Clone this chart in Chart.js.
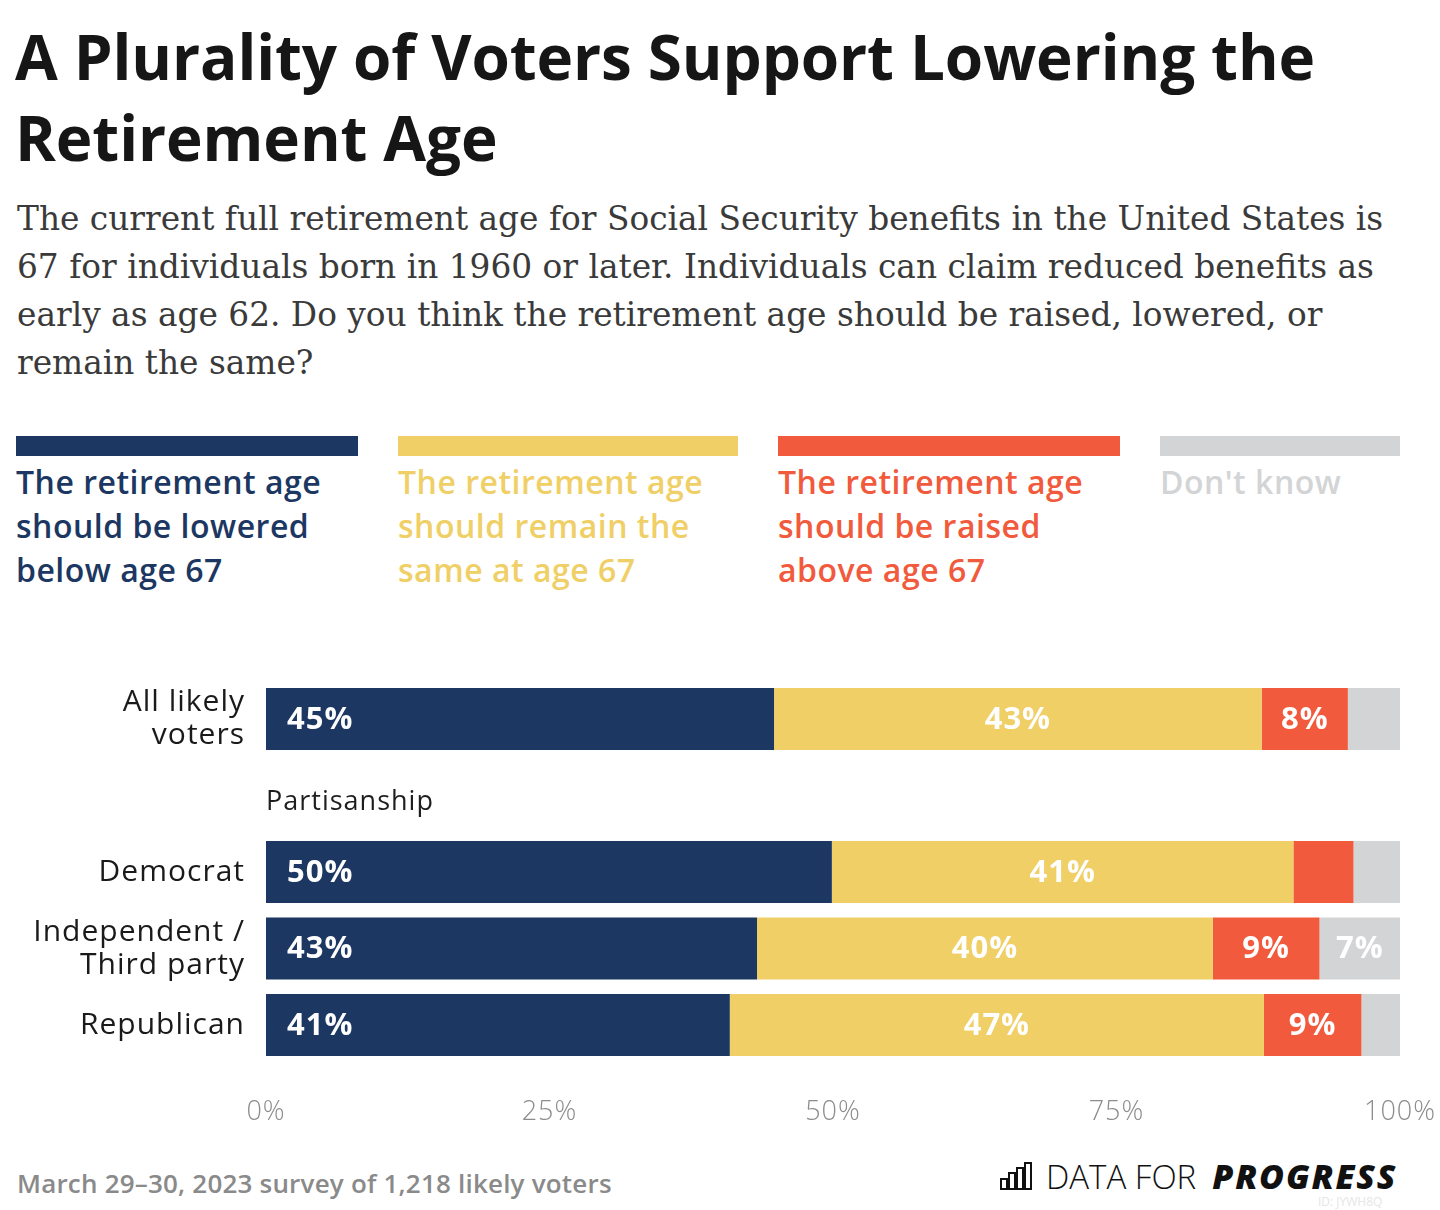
<!DOCTYPE html>
<html>
<head>
<meta charset="utf-8">
<script src="https://cdn.jsdelivr.net/npm/chart.js@4.4.0/dist/chart.umd.min.js"></script>
<style>
  body { margin: 0; width: 1440px; height: 1210px; background: #fff; position: relative; overflow: hidden; font-family: "Open Sans", sans-serif; }
  #title { position: absolute; left: 15px; top: 16px; font-weight: 700; font-size: 62px; line-height: 81px; color: #161616; white-space: nowrap; letter-spacing: -0.1px; }
  #subtitle { position: absolute; left: 17px; top: 195px; font-family: "DejaVu Serif", serif; font-size: 32.8px; line-height: 48px; color: #3a3a3a; white-space: nowrap; }
  #legend { position: absolute; left: 0; top: 436px; width: 1440px; height: 160px; }
  .item { position: absolute; top: 0; }
  .swatch { height: 20px; }
  .item-text { margin-top: 4px; font-weight: 600; font-size: 32px; line-height: 44px; white-space: nowrap; letter-spacing: 0.5px; }
  #chartBox { position: absolute; left: 0; top: 670px; width: 1440px; height: 470px; }
  #note { position: absolute; left: 17px; top: 1165px; font-weight: 600; font-size: 26px; color: #8a8a8a; white-space: nowrap; letter-spacing: 0.2px; }
  #logo { position: absolute; left: 1000px; top: 1158px; height: 36px; display: flex; align-items: center; white-space: nowrap; }
  #logo .thin { font-weight: 300; font-size: 33px; color: #111; margin-left: 14px; }
  #logo .bold { font-weight: 800; font-style: italic; font-size: 34px; color: #111; margin-left: 16px; letter-spacing: 1.8px; }
  #chartId { position: absolute; left: 1318px; top: 1193px; font-size: 12px; color: #e6e6e6; }
</style>
</head>
<body>
<div id="title">A Plurality of Voters Support Lowering the<br>Retirement Age</div>
<div id="subtitle">The current full retirement age for Social Security benefits in the United States is<br>67 for individuals born in 1960 or later. Individuals can claim reduced benefits as<br>early as age 62. Do you think the retirement age should be raised, lowered, or<br>remain the same?</div>
<div id="legend"></div>
<div id="chartBox"><canvas id="chart"></canvas></div>
<div id="note">March 29–30, 2023 survey of 1,218 likely voters</div>
<div id="logo">
  <svg width="32" height="28" viewBox="0 0 32 28">
    <g fill="none" stroke="#111" stroke-width="2">
      <rect x="1" y="17" width="6" height="10"/>
      <rect x="9" y="11" width="6" height="16"/>
      <rect x="17" y="6" width="6" height="21"/>
      <rect x="25" y="1" width="6" height="26"/>
    </g>
  </svg>
  <span class="thin">DATA FOR</span><span class="bold">PROGRESS</span>
</div>
<div id="chartId">ID: JYWH8Q</div>
<script>
const categories = [["All likely", "voters"], "", "Democrat", ["Independent /", "Third party"], "Republican"];
const lowered = [44.8, null, 49.9, 43.3, 40.9];
const remainSame = [43.0, null, 40.7, 40.2, 47.1];
const raised = [7.6, null, 5.3, 9.4, 8.6];
const dontKnow = [4.6, null, 4.1, 7.1, 3.4];
const seriesNames = [
  ["The retirement age", "should be lowered", "below age 67"],
  ["The retirement age", "should remain the", "same at age 67"],
  ["The retirement age", "should be raised", "above age 67"],
  ["Don't know"]
];
const seriesColors = ["#1c3762", "#efcf66", "#f15a3c", "#d3d4d6"];
const xTicks = [0, 25, 50, 75, 100];
const groupHeader = "Partisanship";

// legend columns above the chart
const legendBox = document.getElementById("legend");
const legendLeft = [16, 398, 778, 1160];
const legendWidth = [342, 340, 342, 240];
seriesNames.forEach((lines, i) => {
  const item = document.createElement("div");
  item.className = "item";
  item.style.left = legendLeft[i] + "px";
  item.style.width = legendWidth[i] + "px";
  item.innerHTML = `<div class="swatch" style="background:${seriesColors[i]}"></div>` +
    `<div class="item-text" style="color:${seriesColors[i]}">${lines.join("<br>")}</div>`;
  legendBox.appendChild(item);
});

// a bit of tracking on all canvas text, closer to the original typeface
const tracking = {
  id: "tracking",
  beforeDraw(chart) {
    chart.ctx.letterSpacing = "1px";
  }
};

const barLabels = {
  id: "barLabels",
  afterDatasetsDraw(chart) {
    const ctx = chart.ctx;
    ctx.save();
    ctx.font = "bold 31px 'Open Sans'";
    ctx.fillStyle = "#ffffff";
    ctx.textBaseline = "middle";
    chart.data.datasets.forEach((ds, i) => {
      const meta = chart.getDatasetMeta(i);
      meta.data.forEach((bar, j) => {
        const v = ds.data[j];
        if (v == null || v < 6) return;
        const text = Math.round(v) + "%";
        if (i === 0) {
          ctx.textAlign = "left";
          ctx.fillText(text, bar.base + 21, bar.y + 1);
        } else {
          ctx.textAlign = "center";
          ctx.fillText(text, (bar.x + bar.base) / 2, bar.y + 1);
        }
      });
    });
    ctx.font = "27px 'Open Sans'";
    ctx.fillStyle = "#1e1e1e";
    ctx.textAlign = "left";
    ctx.fillText(groupHeader, chart.chartArea.left, chart.scales.y.getPixelForValue(1) + 7);
    ctx.restore();
  }
};

new Chart(document.getElementById("chart"), {
  type: "bar",
  data: {
    labels: categories,
    datasets: [lowered, remainSame, raised, dontKnow].map((values, i) => ({
      label: seriesNames[i].join(" "),
      data: values,
      backgroundColor: seriesColors[i],
      borderWidth: 0,
      barPercentage: 1,
      categoryPercentage: 0.81
    }))
  },
  options: {
    indexAxis: "y",
    responsive: true,
    maintainAspectRatio: false,
    animation: false,
    layout: { padding: { top: 10.75, right: 40, left: 0, bottom: 0 } },
    plugins: {
      legend: { display: false },
      tooltip: { enabled: false }
    },
    scales: {
      x: {
        stacked: true,
        min: 0,
        max: 100,
        afterBuildTicks: (scale) => { scale.ticks = xTicks.map((v) => ({ value: v })); },
        afterFit: (scale) => {
          scale.height = 76.75;
          scale.paddingLeft = 0;
          scale.paddingRight = 0;
        },
        grid: { display: false, drawTicks: false },
        border: { display: false },
        ticks: {
          padding: 33,
          color: "#8c8c8c",
          font: { family: "Open Sans", size: 27, weight: "300" },
          callback: (value) => value + "%"
        }
      },
      y: {
        stacked: true,
        afterFit: (scale) => {
          scale.width = 266;
          scale.paddingTop = 0;
          scale.paddingBottom = 0;
        },
        grid: { display: false, drawTicks: false },
        border: { display: false },
        ticks: {
          padding: 21,
          color: "#1a1a1a",
          font: { family: "Open Sans", size: 30, lineHeight: 1.1 }
        }
      }
    }
  },
  plugins: [tracking, barLabels]
});
</script>
</body>
</html>
